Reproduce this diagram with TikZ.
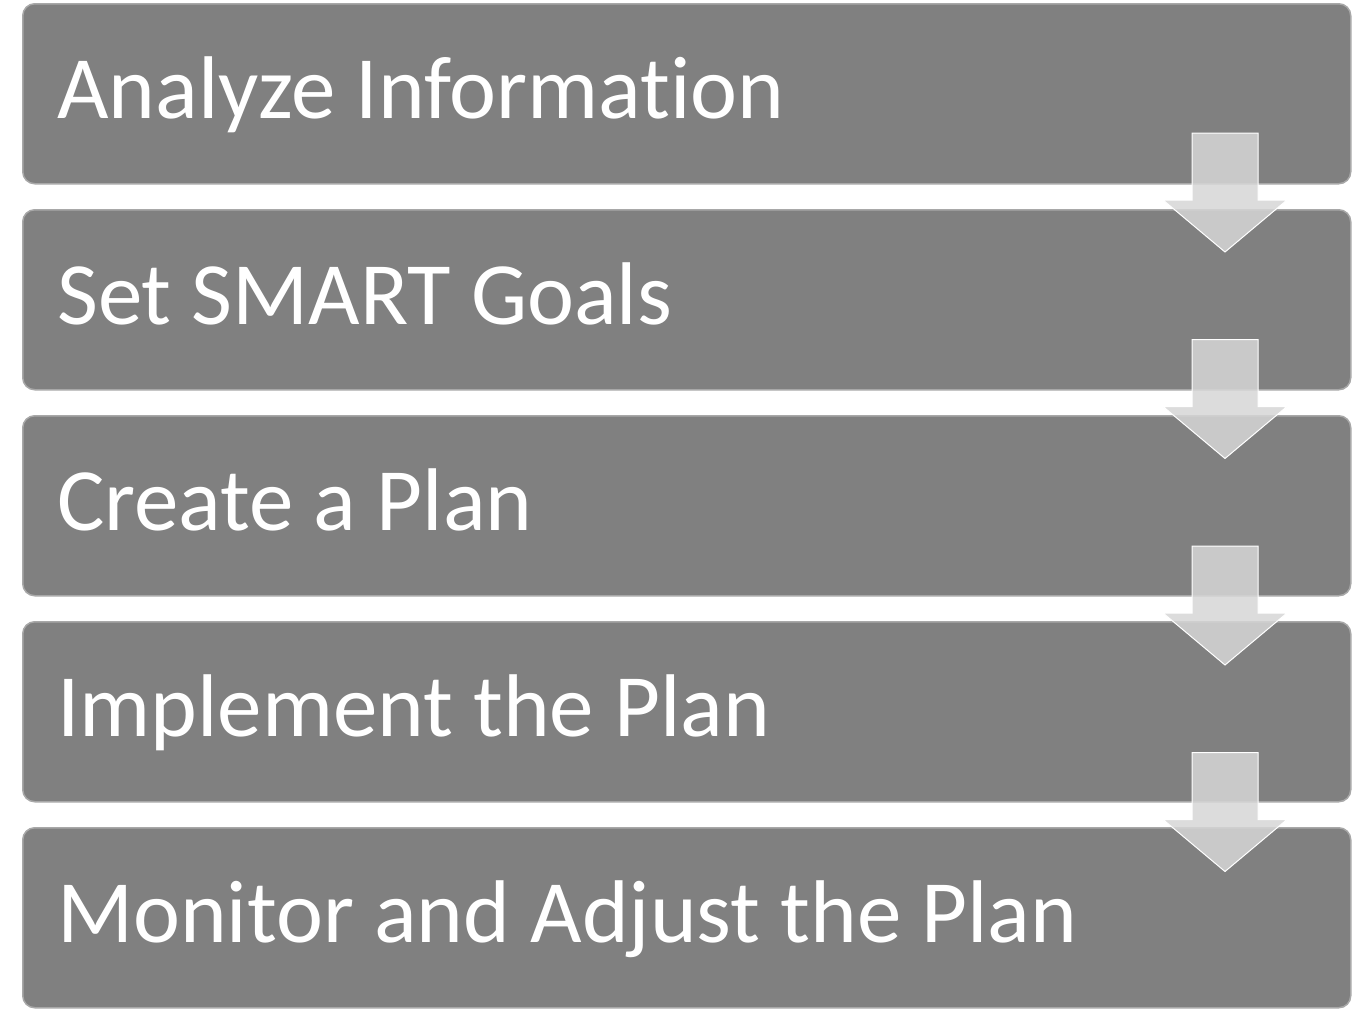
\documentclass[tikz,border=0pt]{standalone}
\usepackage{fontspec}
\setmainfont[Ligatures=NoCommon]{Carlito}
\begin{document}
\begin{tikzpicture}[x=1pt,y=-1pt,
  stepbox/.style={rectangle, rounded corners=12pt, fill=boxgray, draw=edgegray, line width=1.5pt,
    minimum width=1328pt, minimum height=180pt, inner sep=0pt, anchor=north west},
  steptext/.style={anchor=base west, text=white, font=\fontsize{89}{100}\selectfont, inner sep=0pt},
  arrowshape/.style={fill=arrowgray, fill opacity=0.85, draw=white, line width=1pt}]
\definecolor{boxgray}{HTML}{808080}
\definecolor{edgegray}{HTML}{A8A8A8}
\definecolor{arrowgray}{HTML}{D6D6D6}
\useasboundingbox (0,0) rectangle (1353,1020);
\foreach \i/\t in {1/Analyze Information,2/Set SMART Goals,3/Create a Plan,4/Implement the Plan,5/Monitor and Adjust the Plan}{
  \node[stepbox] (b\i) at (22,{3+206*(\i-1)}) {};
  \node[steptext] (t\i) at (57,{118+206*(\i-1)}) {\t};
}
\foreach \i in {1,2,3,4}{
  \coordinate (a\i) at (1225,{133+206.5*(\i-1)});
  \draw[arrowshape] (a\i) ++(-33,0) -- ++(66,0) -- ++(0,67) -- ++(29,0) -- ++(-62,52) -- ++(-62,-52) -- ++(29,0) -- cycle;
}
\end{tikzpicture}
\end{document}
